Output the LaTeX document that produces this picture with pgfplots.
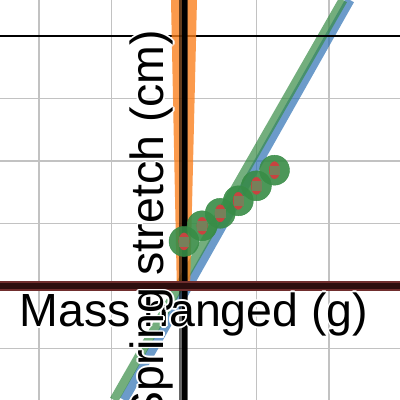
\documentclass[border=0pt]{standalone}
\usepackage{pgfplots}
\pgfplotsset{compat=1.18}
\usepackage{fontspec}
\setmainfont{Liberation Sans}

\definecolor{dgreen}{RGB}{56,140,70}
\definecolor{dblue}{RGB}{45,112,179}
\definecolor{dorange}{RGB}{250,126,25}
\definecolor{dred}{RGB}{199,68,64}
\definecolor{redband}{RGB}{112,46,46}
\definecolor{darkband}{RGB}{45,14,14}
\definecolor{midband}{RGB}{118,128,90}

% label with a white halo round it
\newcommand{\halo}[3]{%
  \foreach \dx/\dy in {1.7/0,-1.7/0,0/1.7,0/-1.7,1.2/1.2,1.2/-1.2,-1.2/1.2,-1.2/-1.2}
    \node[#1, text=white, xshift=\dx pt, yshift=\dy pt] at (#2) {#3};
  \node[#1] at (#2) {#3};}

\begin{document}
\begin{tikzpicture}
\begin{axis}[
  width=400pt, height=400pt, scale only axis,
  xmin=-2.541, xmax=2.983, ymin=-1.827, ymax=4.573,
  xtick={-2,-1,0,1,2}, ytick={-1,0,1,2,3,4},
  xticklabels={}, yticklabels={},
  grid=major, major grid style={black!24, line width=1.6pt},
  axis line style={draw=none}, tick style={draw=none},
]
% data points (green circles)
\addplot[only marks, color=dgreen, mark=*, mark size=15pt,
  mark options={fill=dgreen, draw=none, fill opacity=0.9}] coordinates
  {(0,0.71) (0.25,0.96) (0.5,1.16) (0.75,1.36) (1.0,1.60) (1.25,1.85)};
% fitted lines
\addplot[dblue, opacity=0.7, line width=9pt] coordinates {(-0.829,-1.827) (2.293,4.573)};
\addplot[dgreen, opacity=0.7, line width=9pt] coordinates {(-0.967,-1.827) (2.196,4.573)};
% thin line at 4
\addplot[black, line width=2pt] coordinates {(-2.6,4) (3.0,4)};
% steep orange band
\addplot[draw=none, fill=dorange, fill opacity=0.78] coordinates
  {(-0.180,4.6) (0.180,4.6) (0.085,0.045) (-0.100,0.045)} -- cycle;
% vertical axis
\addplot[black, opacity=0.6, line width=9pt] coordinates {(-0.010,-1.9) (-0.010,4.6)};
\addplot[black, line width=5pt] coordinates {(0.010,-1.9) (0.010,4.6)};
% horizontal axis band
\addplot[redband, line width=9.5pt] coordinates {(-2.6,0) (3.0,0)};
\addplot[darkband, line width=6.5pt] coordinates {(-2.6,0) (3.0,0)};
% red marks
\addplot[only marks, color=dred, mark=*, mark size=5.2pt,
  mark options={fill=dred, draw=none, yscale=1.65}] coordinates
  {(0,0.71) (0.25,0.96) (0.5,1.16) (0.75,1.36) (1.0,1.60) (1.25,1.85)};
\addplot[only marks, color=midband, mark=square*, mark size=4.6pt,
  mark options={fill=midband, draw=none, yscale=0.95}] coordinates
  {(0,0.71) (0.25,0.96) (0.5,1.16) (0.75,1.36) (1.0,1.60) (1.25,1.85)};
\coordinate (xl) at (axis cs:-2.275,-0.651);
\coordinate (yl) at (axis cs:-0.2845,4.10);
\end{axis}
\halo{anchor=base west, inner sep=0pt, font=\fontsize{46.5}{52}\selectfont}{xl}{Mass hanged (g)}
\halo{rotate=90, anchor=base east, inner sep=0pt, font=\fontsize{46.5}{52}\selectfont}{yl}{Spring stretch (cm)}
\pgfresetboundingbox
\path[use as bounding box] (current axis.south west) rectangle (current axis.north east);
\end{tikzpicture}
\end{document}
